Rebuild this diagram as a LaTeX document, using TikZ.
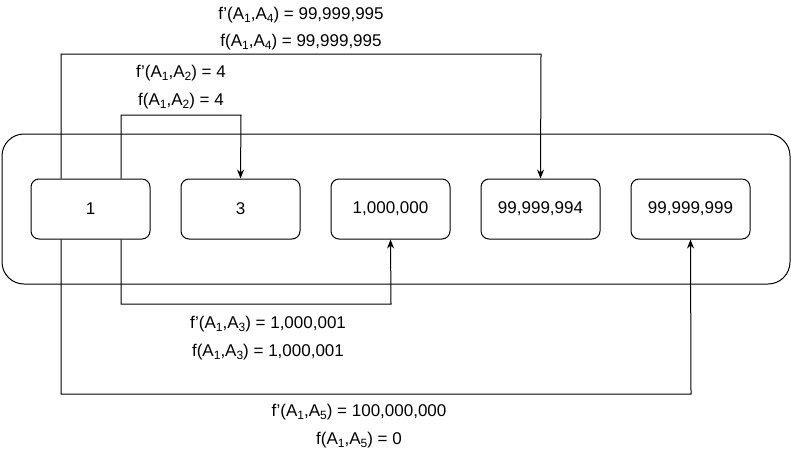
\documentclass[tikz,border=0pt]{standalone}
\usepackage{fontspec}
\setmainfont{Liberation Sans}
\usetikzlibrary{arrows.meta}
\newcommand{\sbs}[1]{\raisebox{-0.35ex}{\fontsize{12}{14}\selectfont #1}}
\begin{document}
\begin{tikzpicture}[x=1pt,y=-1pt,
  box/.style={draw,line width=1pt,rounded corners=8pt,minimum width=119pt,minimum height=60pt,inner sep=0pt,font=\fontsize{17}{20}\selectfont},
  lbl/.style={font=\fontsize{17}{20}\selectfont,inner sep=0pt},
  conn/.style={draw,line width=1pt,-{Stealth[length=9pt,width=7pt]}}]
\useasboundingbox (0,0) rectangle (791,458);
\node[draw,line width=1pt,rounded corners=22pt,minimum width=788pt,minimum height=150pt,inner sep=0pt] (outer) at (396,209) {};
\node[box] (b1) at (90.5,209) {1};
\node[box] (b2) at (240.5,209) {3};
\node[box] (b3) at (390.5,209) {1,000,000};
\node[box] (b4) at (540.5,209) {99,999,994};
\node[box] (b5) at (690.5,209) {99,999,999};
\coordinate (p4a) at (61,54); \coordinate (p4b) at (541,54);
\coordinate (p2a) at (121,115); \coordinate (p2b) at (241,115);
\coordinate (p3a) at (121,304); \coordinate (p3b) at (391,304);
\coordinate (p5a) at (61,394); \coordinate (p5b) at (691,394);
\draw[conn] ([xshift=-29.5pt]b1.north) -- (p4a) -- (p4b) -- (b4.north);
\draw[conn] ([xshift=30.5pt]b1.north) -- (p2a) -- (p2b) -- (b2.north);
\draw[conn] ([xshift=30.5pt]b1.south) -- (p3a) -- (p3b) -- (b3.south);
\draw[conn] ([xshift=-29.5pt]b1.south) -- (p5a) -- (p5b) -- (b5.south);
\node[lbl] (l4a) at (301,15) {f'(A\sbs{1},A\sbs{4}) = 99,999,995};
\node[lbl] (l4b) at (301,42) {f(A\sbs{1},A\sbs{4}) = 99,999,995};
\node[lbl] (l2a) at (181,73) {f'(A\sbs{1},A\sbs{2}) = 4};
\node[lbl] (l2b) at (181,101) {f(A\sbs{1},A\sbs{2}) = 4};
\node[lbl] (l3a) at (268,324) {f'(A\sbs{1},A\sbs{3}) = 1,000,001};
\node[lbl] (l3b) at (268,352) {f(A\sbs{1},A\sbs{3}) = 1,000,001};
\node[lbl] (l5a) at (359,412) {f'(A\sbs{1},A\sbs{5}) = 100,000,000};
\node[lbl] (l5b) at (359,440) {f(A\sbs{1},A\sbs{5}) = 0};
\end{tikzpicture}
\end{document}
